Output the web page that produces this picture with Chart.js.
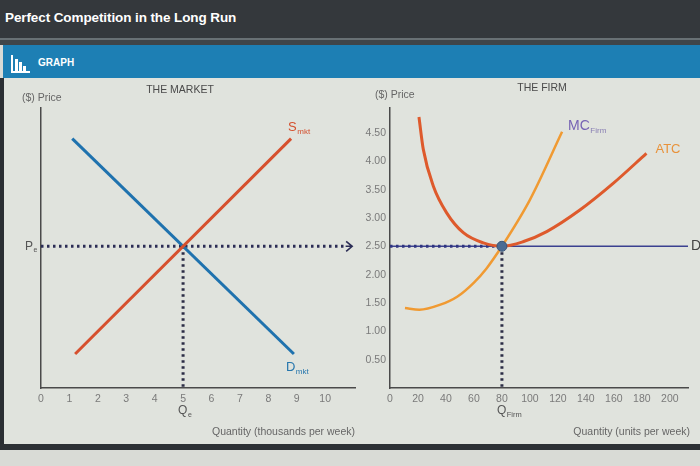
<!DOCTYPE html>
<html><head><meta charset="utf-8">
<script src="https://cdn.jsdelivr.net/npm/chart.js@4"></script>
<style>
html,body{margin:0;padding:0;width:700px;height:466px;overflow:hidden;background:#d9dbd6;font-family:"Liberation Sans",Arial,sans-serif}
#top{position:absolute;left:0;top:0;width:700px;height:38px;background:#34383c}
#title{position:absolute;left:5px;top:10px;color:#fff;font-size:13.5px;font-weight:bold;letter-spacing:-0.1px}
#sep{position:absolute;left:0;top:38px;width:700px;height:5px;background:#3f4549;border-top:2px solid #687074}
#bar{position:absolute;left:3px;top:45px;width:697px;height:33px;background:#1d7fb4}
#gtxt{position:absolute;left:38px;top:57px;color:#fff;font-size:10px;font-weight:bold}
.ib{position:absolute;background:#fff}
#panel{position:absolute;left:4px;top:78px;width:696px;height:366px;background:#e0e3dd}
#lb{position:absolute;left:0;top:78px;width:4px;height:372px;background:#2b2f33}
#bottom{position:absolute;left:0;top:444px;width:700px;height:6px;background:#2d3135}
canvas{position:absolute;left:0;top:0}
</style>
</head><body>
<div id="top"><div id="title">Perfect Competition in the Long Run</div></div>
<div id="sep"></div>
<div id="bar"></div>
<div class="ib" style="left:11px;top:55px;width:2px;height:18px"></div>
<div class="ib" style="left:11px;top:71px;width:19px;height:2px"></div>
<div class="ib" style="left:15px;top:59px;width:3px;height:12px"></div>
<div class="ib" style="left:19px;top:62px;width:3px;height:9px"></div>
<div class="ib" style="left:23px;top:66px;width:3px;height:5px"></div>
<div id="gtxt">GRAPH</div>
<div id="panel"></div>
<div id="lb"></div>
<div id="bottom"></div>
<canvas id="c1" width="700" height="466"></canvas>
<canvas id="c2" width="700" height="466"></canvas>
<script>
// ---- data ----
const marketQtyTicks = [0,1,2,3,4,5,6,7,8,9,10];
const firmQtyTicks = [0,20,40,60,80,100,120,140,160,180,200];
const firmPriceTicks = [0.5,1,1.5,2,2.5,3,3.5,4,4.5];
const supplyQ = [1.2, 8.8];
const supplyP = [0.6, 4.4];
const demandQ = [1.1, 8.9];
const demandP = [4.4, 0.6];
const marketEqQ = 5;
const marketEqP = 2.5;
const mcQ = [10.7, 21, 36, 48, 60, 69, 80, 100, 123];
const mcP = [1.41, 1.38, 1.47, 1.61, 1.86, 2.11, 2.5, 3.32, 4.52];
const atcQ = [20.7, 23.8, 31, 40.5, 52.4, 66.7, 80, 95, 112, 135.7, 159.5, 183.3];
const atcP = [4.78, 4.21, 3.56, 3.09, 2.74, 2.56, 2.5, 2.58, 2.76, 3.14, 3.61, 4.14];
const firmQ = 80;
const firmPrice = 2.5;

const FONT = '"Liberation Sans", Arial, sans-serif';
const zip = (xs, ys) => xs.map((x, i) => ({x, y: ys[i]}));

function txt(ctx, s, x, y, size, color, align, weight) {
  ctx.save();
  ctx.font = (weight || 'normal') + ' ' + size + 'px ' + FONT;
  ctx.fillStyle = color;
  ctx.textAlign = align || 'left';
  ctx.textBaseline = 'middle';
  ctx.fillText(s, x, y);
  const w = ctx.measureText(s).width;
  ctx.restore();
  return w;
}
function sub(ctx, main, subs, x, y, size, subSize, color, subColor) {
  const w = txt(ctx, main, x, y, size, color);
  txt(ctx, subs, x + w + 0.5, y + size * 0.35, subSize, subColor || color);
}

const baseOpts = (pad) => ({
  responsive: false, animation: false, events: [],
  layout: {padding: pad},
  plugins: {legend: {display: false}, tooltip: {enabled: false}},
});

const axisBorder = {display: true, color: '#4a4a4a', width: 1.5};
const tickFont = {size: 10.5, family: FONT};
const noGrid = {display: false, drawTicks: false};

// ---- market chart ----
const marketLabels = {
  id: 'marketLabels',
  afterDraw(chart) {
    const ctx = chart.ctx, xs = chart.scales.x, ys = chart.scales.y;
    txt(ctx, 'THE MARKET', 180, 90, 10.5, '#4a4a4a', 'center');
    txt(ctx, '($) Price', 22, 98, 10.5, '#666', 'left');
    const px = xs.getPixelForValue(10.95), py = ys.getPixelForValue(marketEqP);
    ctx.save();
    ctx.strokeStyle = '#2b2d55'; ctx.lineWidth = 1.6;
    ctx.beginPath();
    ctx.moveTo(xs.getPixelForValue(10.72), py); ctx.lineTo(px, py);
    ctx.moveTo(px - 6, py - 5); ctx.lineTo(px, py); ctx.lineTo(px - 6, py + 5);
    ctx.stroke(); ctx.restore();
    sub(ctx, 'P', 'e', 25, py, 12, 7, '#555');
    sub(ctx, 'Q', 'e', xs.getPixelForValue(marketEqQ) - 5, 411, 12, 7, '#555');
    const sx = xs.getPixelForValue(supplyQ[1]), sy = ys.getPixelForValue(supplyP[1]);
    sub(ctx, 'S', 'mkt', sx - 3, sy - 11, 13, 8, '#d4502e');
    const dx = xs.getPixelForValue(demandQ[1]), dy = ys.getPixelForValue(demandP[1]);
    sub(ctx, 'D', 'mkt', dx - 8, dy + 13, 13, 8, '#2676ad');
    txt(ctx, 'Quantity (thousands per week)', 355, 432, 10.5, '#666', 'right');
  }
};

new Chart(document.getElementById('c1'), {
  type: 'line',
  data: {datasets: [
    {data: zip(supplyQ, supplyP), borderColor: '#d6502e', borderWidth: 3, pointRadius: 0},
    {data: zip(demandQ, demandP), borderColor: '#1f72ae', borderWidth: 3, pointRadius: 0},
    {data: [{x: 0, y: marketEqP}, {x: 10.7, y: marketEqP}], borderColor: '#2b2d55', borderWidth: 3, borderDash: [2.5, 3.5], pointRadius: 0},
    {data: [{x: marketEqQ, y: marketEqP}, {x: marketEqQ, y: 0}], borderColor: '#2b2d45', borderWidth: 3, borderDash: [2.5, 3.5], pointRadius: 0},
  ]},
  options: Object.assign(baseOpts({left: 41, top: 108, right: 345, bottom: 50}), {
    scales: {
      x: {type: 'linear', min: 0, max: 11.05, grid: noGrid, border: axisBorder,
          ticks: {color: '#7a7a7a', font: tickFont, padding: 5, maxRotation: 0, autoSkip: false},
          afterBuildTicks: s => { s.ticks = marketQtyTicks.map(v => ({value: v})); },
          afterFit: s => { s.height = 28; }},
      y: {type: 'linear', min: 0, max: 4.94, grid: noGrid, border: axisBorder,
          ticks: {display: false}, afterFit: s => { s.width = 0; }}
    }
  }),
  plugins: [marketLabels]
});

// ---- firm chart ----
const firmLabels = {
  id: 'firmLabels',
  afterDraw(chart) {
    const ctx = chart.ctx, xs = chart.scales.x, ys = chart.scales.y;
    txt(ctx, 'THE FIRM', 542, 88, 10.5, '#4a4a4a', 'center');
    txt(ctx, '($) Price', 375, 95, 10.5, '#666', 'left');
    const mx = xs.getPixelForValue(mcQ[mcQ.length - 1]), my = ys.getPixelForValue(mcP[mcP.length - 1]);
    sub(ctx, 'MC', 'Firm', mx + 6, my - 6, 14, 8, '#7663b4', '#8a80b4');
    const ax = xs.getPixelForValue(atcQ[atcQ.length - 1]), ay = ys.getPixelForValue(atcP[atcP.length - 1]);
    txt(ctx, 'ATC', ax + 9, ay - 4, 13, '#e8923a', 'left');
    txt(ctx, 'D', 691, ys.getPixelForValue(firmPrice), 14, '#444', 'left');
    sub(ctx, 'Q', 'Firm', xs.getPixelForValue(firmQ) - 5, 411, 12, 7.5, '#555');
    txt(ctx, 'Quantity (units per week)', 690, 432, 10.5, '#666', 'right');
  }
};

new Chart(document.getElementById('c2'), {
  type: 'line',
  data: {datasets: [
    {data: [{x: firmQ, y: firmPrice}], borderColor: '#3a5577', backgroundColor: '#4a6c94', pointRadius: 5, borderWidth: 1, showLine: false},
    {data: zip(atcQ, atcP), borderColor: '#de5a2c', borderWidth: 3, pointRadius: 0, cubicInterpolationMode: 'monotone'},
    {data: zip(mcQ, mcP), borderColor: '#f09a32', borderWidth: 2.5, pointRadius: 0, cubicInterpolationMode: 'monotone'},
    {data: [{x: 0, y: firmPrice}, {x: firmQ, y: firmPrice}], borderColor: '#2f3580', borderWidth: 3, borderDash: [2.5, 3.5], pointRadius: 0},
    {data: [{x: 0, y: firmPrice}, {x: 213, y: firmPrice}], borderColor: '#3b4190', borderWidth: 1.6, pointRadius: 0},
    {data: [{x: firmQ, y: firmPrice}, {x: firmQ, y: 0}], borderColor: '#2b2d45', borderWidth: 3, borderDash: [2.5, 3.5], pointRadius: 0},
  ]},
  options: Object.assign(baseOpts({left: 350, top: 108, right: 12, bottom: 50}), {
    scales: {
      x: {type: 'linear', min: 0, max: 213, grid: noGrid, border: axisBorder,
          ticks: {color: '#7a7a7a', font: tickFont, padding: 5, maxRotation: 0, autoSkip: false},
          afterBuildTicks: s => { s.ticks = firmQtyTicks.map(v => ({value: v})); },
          afterFit: s => { s.height = 28; }},
      y: {type: 'linear', min: 0, max: 4.94, grid: noGrid, border: axisBorder,
          ticks: {color: '#7a7a7a', font: tickFont, padding: 4, callback: v => Number(v).toFixed(2)},
          afterBuildTicks: s => { s.ticks = firmPriceTicks.map(v => ({value: v})); },
          afterFit: s => { s.width = 40; }}
    }
  }),
  plugins: [firmLabels]
});
</script>
</body></html>
